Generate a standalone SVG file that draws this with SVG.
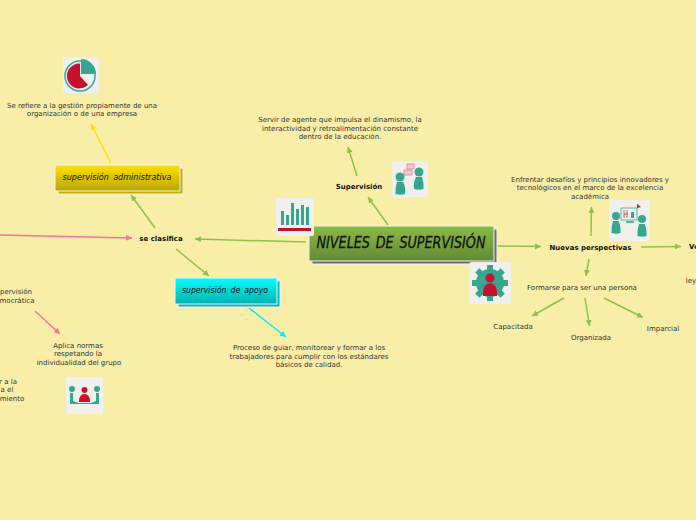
<svg xmlns="http://www.w3.org/2000/svg" width="696" height="520" viewBox="0 0 696 520">
<style>
text{font-family:"DejaVu Sans",Verdana,sans-serif;font-size:7px;fill:#333;text-anchor:middle}
.b{font-weight:bold;fill:#111}
.t{font-family:"DejaVu Sans",sans-serif;font-style:italic;fill:#111;word-spacing:2px}
.c{fill:none;stroke-width:1.5}
.g{stroke:#8bc34a}.y{stroke:#ffe000}.p{stroke:#ff6f9c}.a{stroke:#00f0f0}
.ic{fill:#f0f1ec}.te{fill:#36a68f}.re{fill:#c8102e}
.bd{stroke:#f2f2f2;stroke-width:1}
</style>
<defs>
<linearGradient id="gg" x1="0" y1="0" x2="0" y2="1"><stop offset="0" stop-color="#8abb45"/><stop offset="1" stop-color="#628a34"/></linearGradient>
<linearGradient id="gy" x1="0" y1="0" x2="0" y2="1"><stop offset="0" stop-color="#ffe000"/><stop offset="1" stop-color="#b9a500"/></linearGradient>
<linearGradient id="gc" x1="0" y1="0" x2="0" y2="1"><stop offset="0" stop-color="#00ffff"/><stop offset="1" stop-color="#00b0b0"/></linearGradient>
<marker id="mg" markerWidth="8" markerHeight="8" refX="6" refY="3" orient="auto" markerUnits="userSpaceOnUse"><path d="M0 0L6 3L0 6z" fill="#8bc34a"/></marker>
<marker id="my" markerWidth="8" markerHeight="8" refX="6" refY="3" orient="auto" markerUnits="userSpaceOnUse"><path d="M0 0L6 3L0 6z" fill="#ffe000"/></marker>
<marker id="mp" markerWidth="8" markerHeight="8" refX="6" refY="3" orient="auto" markerUnits="userSpaceOnUse"><path d="M0 0L6 3L0 6z" fill="#ff6f9c"/></marker>
<marker id="ma" markerWidth="8" markerHeight="8" refX="6" refY="3" orient="auto" markerUnits="userSpaceOnUse"><path d="M0 0L6 3L0 6z" fill="#00f0f0"/></marker>
</defs>
<rect width="696" height="520" fill="#f9eea8"/>
<g id="connectors">
<path class="c g" marker-end="url(#mg)" d="M306 242L195 239"/>
<path class="c g" marker-end="url(#mg)" d="M388 225L368 197"/>
<path class="c g" marker-end="url(#mg)" d="M357 176L348 147"/>
<path class="c g" marker-end="url(#mg)" d="M498 246L541 246.500"/>
<path class="c g" marker-end="url(#mg)" d="M591 236L591.500 207"/>
<path class="c g" marker-end="url(#mg)" d="M641 247L681 246.500"/>
<path class="c g" marker-end="url(#mg)" d="M589 259L586 276"/>
<path class="c g" marker-end="url(#mg)" d="M564 298L532 316"/>
<path class="c g" marker-end="url(#mg)" d="M585 298L589.500 326"/>
<path class="c g" marker-end="url(#mg)" d="M604 298L643 317.500"/>
<path class="c g" marker-end="url(#mg)" d="M155 228L131 195"/>
<path class="c y" marker-end="url(#my)" d="M111 163L91 124"/>
<path class="c g" marker-end="url(#mg)" d="M176 249L209 276"/>
<path class="c a" marker-end="url(#ma)" d="M249 308L286 337"/>
<path class="c p" marker-end="url(#mp)" d="M0 235L132 238"/>
<path class="c p" marker-end="url(#mp)" d="M35 311L60 334"/>
</g>
<g id="n-title">
<rect x="312" y="229" width="185" height="35" fill="#6b6b6b" class="bd"/>
<rect x="309" y="226" width="185" height="35" fill="url(#gg)" class="bd"/>
<text class="t" x="401" y="248" style="font-size:15px;stroke:#111;stroke-width:.3" textLength="169" lengthAdjust="spacingAndGlyphs">NIVELES DE SUPERVISIÓN</text>
</g>
<g id="n-admin">
<rect x="58" y="168" width="125" height="26" fill="#c4ae00" class="bd"/>
<rect x="55" y="165" width="125" height="26" fill="url(#gy)" class="bd"/>
<text class="t" x="117" y="180" style="font-size:9px" textLength="109" lengthAdjust="spacingAndGlyphs">supervisión administrativa</text>
</g>
<g id="n-apoyo">
<rect x="178" y="281" width="102" height="26" fill="#00b8c4" class="bd"/>
<rect x="175" y="278" width="102" height="26" fill="url(#gc)" class="bd"/>
<text class="t" x="225" y="293" style="font-size:9px" textLength="86" lengthAdjust="spacingAndGlyphs">supervisión de apoyo</text>
</g>
<g id="n-clasifica"><text class="b" x="161" y="241">se clasifica</text></g>
<g id="n-supervision"><text class="b" x="359" y="189">Supervisión</text></g>
<g id="n-perspectivas"><text class="b" x="590.500" y="250">Nuevas perspectivas</text></g>
<g id="n-ve"><text class="b" x="694" y="249">Ve</text></g>
<g id="n-ley"><text x="691" y="283">ley</text></g>
<g id="n-gestion"><text x="82" y="108">Se refiere a la gestión propiamente de una</text><text x="82" y="116">organización o de una empresa</text></g>
<g id="n-servir">
<text x="340" y="122">Servir de agente que impulsa el dinamismo, la</text>
<text x="340" y="131">interactividad y retroalimentación constante</text>
<text x="340" y="139">dentro de la educación.</text>
</g>
<g id="n-proceso">
<text x="309" y="350">Proceso de guiar, monitorear y formar a los</text>
<text x="309" y="359">trabajadores para cumplir con los estándares</text>
<text x="309" y="367">básicos de calidad.</text>
</g>
<g id="n-enfrentar">
<text x="590" y="182">Enfrentar desafíos y principios innovadores y</text>
<text x="590" y="190">tecnológicos en el marco de la excelencia</text>
<text x="590" y="199">académica</text>
</g>
<g id="n-formarse"><text x="582" y="290">Formarse para ser una persona</text></g>
<g id="n-capacitada"><text x="513" y="329">Capacitada</text></g>
<g id="n-organizada"><text x="591" y="340">Organizada</text></g>
<g id="n-imparcial"><text x="663" y="331">Imparcial</text></g>
<g id="n-democratica"><text x="16" y="294">pervisión</text><text x="17" y="303">mocrática</text></g>
<g id="n-aplica">
<text x="78" y="348">Aplica normas</text>
<text x="78" y="356">respetando la</text>
<text x="79" y="365">individualidad del grupo</text>
</g>
<g id="n-miento"><text x="8" y="384">r a la</text><text x="7" y="392">a el</text><text x="12" y="401">miento</text></g>
<g id="icon-pie">
<rect class="ic" x="63" y="57" width="36" height="36" rx="2"/>
<circle cx="80" cy="76" r="15" fill="none" stroke="#36a68f" stroke-width="1.500"/>
<path class="re" d="M80 63.500A12.500 12.500 0 1 0 88 85L80 76z"/>
<path class="te" d="M81 59A15 15 0 0 1 96 74L81 74z"/>
</g>
<g id="icon-bars">
<rect class="ic" x="276" y="198" width="38" height="38" rx="2"/>
<path class="te" d="M281 211h3v14h-3zM286 215h3v10h-3zM291 203h3v22h-3zM296 209h3v16h-3zM301 205h3v20h-3zM306 207h3v18h-3z"/>
<rect class="re" x="278" y="228" width="33" height="3"/>
</g>
<g id="icon-talk">
<rect class="ic" x="392" y="161" width="36" height="36" rx="2"/>
<circle class="te" cx="400" cy="177" r="4.500"/><path class="te" d="M397 182q-2 6-1.500 12q5 1.500 9.500 0q1-7-2-12z"/>
<circle class="te" cx="419" cy="172" r="4.500"/><path class="te" d="M416 177q-3 6-2 12q5 1.500 9.500 0q.5-6-1.500-12z"/>
<rect x="407" y="164" width="7" height="5" fill="#f3c9cf" stroke="#d85f75" stroke-width=".6"/>
<rect x="404" y="170" width="8" height="5" fill="#f3c9cf" stroke="#d85f75" stroke-width=".6"/>
</g>
<g id="icon-board">
<rect class="ic" x="609" y="200" width="41" height="41" rx="3"/>
<circle class="te" cx="616" cy="216" r="4"/><path class="te" d="M613 221q-2 6-1.500 12q5 1.500 9 0q.5-7-2-12z"/>
<circle class="te" cx="642" cy="219" r="4"/><path class="te" d="M639 224q-2 6-1.500 12q5 1.500 9 0q.5-7-2-12z"/>
<rect x="621" y="208" width="16" height="12" fill="#eef5f1" stroke="#36a68f" stroke-width=".8"/>
<path d="M626 222h8" stroke="#36a68f" stroke-width="1.500"/>
<path class="re" d="M637 204l4 3-4 1z"/>
<path d="M624 210v8M627 210v8M624 214h4" stroke="#c8102e" stroke-width=".7"/>
<rect class="te" x="631" y="212" width="3" height="6"/>
</g>
<g id="icon-gear">
<rect class="ic" x="469" y="262" width="42" height="42" rx="3"/>
<path d="M490 265v36M472 283h36M477.300 270.300l25.400 25.400M502.700 270.300l-25.400 25.400" stroke="#36a68f" stroke-width="6"/>
<circle cx="490" cy="283" r="14" class="te"/>
<circle class="re" cx="490" cy="278" r="4.500"/>
<path class="re" d="M483 296q-1-12 7-13q8 1 7 13z"/>
</g>
<g id="icon-meeting">
<rect class="ic" x="66" y="377" width="37" height="37" rx="2"/>
<circle class="te" cx="72" cy="389" r="3"/><circle class="te" cx="97" cy="389" r="3"/>
<circle class="re" cx="84.500" cy="390" r="3"/>
<path class="te" d="M70 393h3v8l5 2h13l5-2v-8h3v11H70z"/>
<path class="re" d="M79 402q0-8 5.500-8t5.500 8z"/>
</g>
</svg>
